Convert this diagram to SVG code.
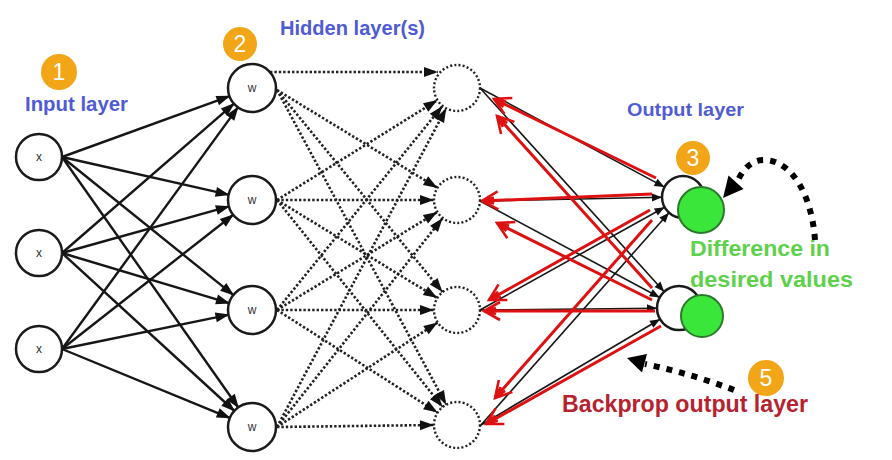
<svg xmlns="http://www.w3.org/2000/svg" width="892" height="460" viewBox="0 0 892 460">
<defs>
<marker id="ah" markerUnits="userSpaceOnUse" markerWidth="16" markerHeight="12" refX="14" refY="5" orient="auto" overflow="visible"><path d="M0,0 L14,5 L0,10 z" fill="#111"/></marker>
<marker id="ahs" markerUnits="userSpaceOnUse" markerWidth="12" markerHeight="10" refX="10" refY="4" orient="auto" overflow="visible"><path d="M0,0 L10,4 L0,8 z" fill="#111"/></marker>
<marker id="rh" markerUnits="userSpaceOnUse" markerWidth="20" markerHeight="20" refX="0" refY="0" orient="auto" overflow="visible"><path d="M-16,-9 L0,0 L-16,9 M-12,-3 L-3,0 L-12,3" fill="none" stroke="#dd1111" stroke-width="2.6" stroke-linejoin="miter"/></marker>
<style>
.solid{stroke:#161616;stroke-width:2.4;fill:none;marker-end:url(#ah)}
.dot{stroke:#222;stroke-width:2.6;stroke-dasharray:2.4 2;fill:none;marker-end:url(#ah)}
.thin{stroke:#161616;stroke-width:1.6;fill:none;marker-end:url(#ahs)}
.red{stroke:#dd1111;stroke-width:3;fill:none;marker-end:url(#rh)}
.big{stroke:#000;stroke-width:6;stroke-dasharray:6 7;fill:none}
.bighead{fill:#000}
.node{fill:#fff;stroke:#1a1a1a;stroke-width:2.5}
.hnode{fill:#fff;stroke:#222;stroke-width:2.4;stroke-dasharray:2 2.2}
.nl{font-family:"Liberation Sans",Arial,sans-serif;font-size:12px;fill:#333;text-anchor:middle}
.badge{fill:#F2A516}
.bt{font-family:"Liberation Sans",Arial,sans-serif;font-size:23px;fill:#fff;text-anchor:middle}
.lbl{font-family:"Liberation Sans",Arial,sans-serif;font-weight:bold}
</style>
</defs>
<rect width="892" height="460" fill="#fff"/>
<g id="connectors">
<path class="solid" d="M62,157 L230.4,95.8"/>
<path class="solid" d="M62,157 L229.6,194.9"/>
<path class="solid" d="M62,157 L234.1,295.6"/>
<path class="solid" d="M62,157 L238.8,408.2"/>
<path class="solid" d="M62,253 L234.6,103.1"/>
<path class="solid" d="M62,253 L229.9,206.2"/>
<path class="solid" d="M62,253 L230,303.4"/>
<path class="solid" d="M62,253 L235,411.5"/>
<path class="solid" d="M62,349 L238.5,106.6"/>
<path class="solid" d="M62,349 L233.9,214.2"/>
<path class="solid" d="M62,349 L229.5,314.6"/>
<path class="solid" d="M62,349 L230.7,418.3"/>
<path class="dot" d="M270,72 L438,72"/>
<path class="dot" d="M277,90 L437.5,187.9"/>
<path class="dot" d="M277,90 L442.5,292.1"/>
<path class="dot" d="M277,90 L446.2,404.7"/>
<path class="dot" d="M277,200 L437.5,100.1"/>
<path class="dot" d="M277,200 L434,200"/>
<path class="dot" d="M277,200 L437.4,298"/>
<path class="dot" d="M277,200 L442.6,407"/>
<path class="dot" d="M277,310 L442.5,105.9"/>
<path class="dot" d="M277,310 L437.4,212"/>
<path class="dot" d="M277,310 L434,310"/>
<path class="dot" d="M277,310 L437.6,412.6"/>
<path class="dot" d="M277,427 L446.2,108.3"/>
<path class="dot" d="M277,427 L442.7,218"/>
<path class="dot" d="M277,427 L437.7,322.5"/>
<path class="dot" d="M277,427 L434,425"/>
<path class="thin" d="M480,88 L664.5,187.1"/>
<path class="thin" d="M480,88 L664.2,291.7"/>
<path class="thin" d="M480,201 L662,197.3"/>
<path class="thin" d="M480,201 L659.7,297.5"/>
<path class="thin" d="M480,310 L664.6,207.2"/>
<path class="thin" d="M480,310 L657,308.2"/>
<path class="thin" d="M481,425 L669,212.7"/>
<path class="thin" d="M481,425 L660,319.2"/>
<path class="red" d="M656,178 L494,99"/>
<path class="red" d="M652,288 L497,116"/>
<path class="red" d="M652,194 L482,201"/>
<path class="red" d="M652,300 L497,223"/>
<path class="red" d="M650,210 L489,300"/>
<path class="red" d="M655,311 L484,311"/>
<path class="red" d="M652,220 L495,398"/>
<path class="red" d="M661,326 L486,424"/>
<path class="big" d="M815,240 C812,196 792,160 764,160 C752,160 744,168 738,180"/>
<polygon class="bighead" points="723,198 743.5,189 728.5,175.5"/>
<path class="big" d="M734,390 Q692,374 645,364"/>
<polygon class="bighead" points="627,358 647,354 642,372.5"/>
</g>
<g id="in1"><circle class="node" cx="39" cy="157" r="23"/><text class="nl" x="39" y="161">x</text></g>
<g id="in2"><circle class="node" cx="39" cy="253" r="23"/><text class="nl" x="39" y="257">x</text></g>
<g id="in3"><circle class="node" cx="39" cy="349" r="23"/><text class="nl" x="39" y="353">x</text></g>
<g id="h1a"><circle class="node" cx="252" cy="88" r="24"/><text class="nl" x="252" y="92">w</text></g>
<g id="h1b"><circle class="node" cx="252" cy="200" r="24"/><text class="nl" x="252" y="204">w</text></g>
<g id="h1c"><circle class="node" cx="252" cy="310" r="24"/><text class="nl" x="252" y="314">w</text></g>
<g id="h1d"><circle class="node" cx="252" cy="427" r="24"/><text class="nl" x="252" y="431">w</text></g>
<g id="h2a"><circle class="hnode" cx="457" cy="88" r="23"/></g>
<g id="h2b"><circle class="hnode" cx="457" cy="200" r="23"/></g>
<g id="h2c"><circle class="hnode" cx="457" cy="310" r="23"/></g>
<g id="h2d"><circle class="hnode" cx="457" cy="425" r="23"/></g>
<g id="out1"><circle class="node" cx="683" cy="197" r="21" stroke-width="2"/><circle cx="701" cy="210" r="23" fill="#3BE63B" stroke="#2B7A2B" stroke-width="2"/></g>
<g id="out2"><circle class="node" cx="679" cy="308" r="22" stroke-width="2"/><circle cx="702" cy="316" r="21" fill="#3BE63B" stroke="#2B7A2B" stroke-width="2"/></g>
<g id="badge1"><circle class="badge" cx="59" cy="72" r="18"/><text class="bt" x="59" y="80">1</text></g>
<g id="badge2"><circle class="badge" cx="240" cy="44" r="17"/><text class="bt" x="240" y="52">2</text></g>
<g id="badge3"><circle class="badge" cx="693" cy="158" r="17"/><text class="bt" x="693" y="166">3</text></g>
<g id="badge5"><circle class="badge" cx="766" cy="378" r="18"/><text class="bt" x="766" y="386">5</text></g>
<g id="labels">
<text class="lbl" x="25" y="111" font-size="20" fill="#4F5BD5" textLength="103" lengthAdjust="spacingAndGlyphs">Input layer</text>
<text class="lbl" x="280" y="35" font-size="20" fill="#4F5BD5" textLength="145" lengthAdjust="spacingAndGlyphs">Hidden layer(s)</text>
<text class="lbl" x="627" y="116" font-size="19" fill="#4F5BD5" textLength="117" lengthAdjust="spacingAndGlyphs">Output layer</text>
<text class="lbl" x="690" y="256" font-size="22" fill="#5ED14B" textLength="140" lengthAdjust="spacingAndGlyphs">Difference in</text>
<text class="lbl" x="690" y="287" font-size="22" fill="#5ED14B" textLength="163" lengthAdjust="spacingAndGlyphs">desired values</text>
<text class="lbl" x="562" y="412" font-size="23" fill="#B5232F" textLength="246" lengthAdjust="spacingAndGlyphs">Backprop output layer</text>
</g>
</svg>
